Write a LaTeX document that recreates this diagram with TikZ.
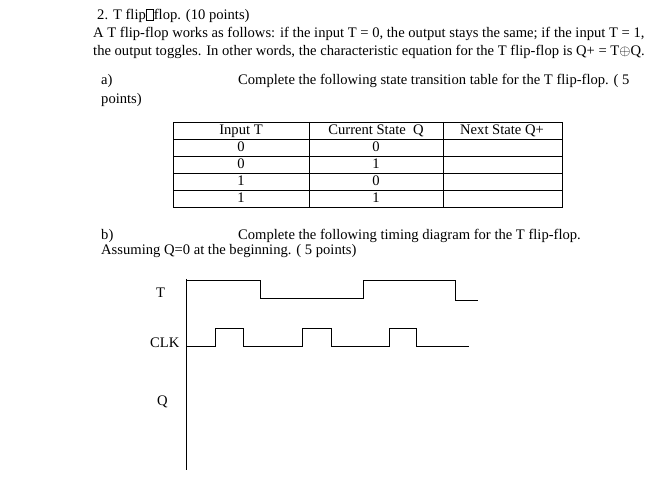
\documentclass[tikz,border=0pt]{standalone}
\usepackage{fontspec}
\setmainfont{Liberation Serif}
\begin{document}
\begin{tikzpicture}[x=1pt,y=-1pt,txt/.style={anchor=base west,inner sep=0pt,font=\fontsize{14.6}{16}\selectfont},
 wave/.style={line width=0.7pt}]
\useasboundingbox (0,0) rectangle (669,478);
\node[txt] (l1) at (97,20) {2. T flip\fboxsep=0pt\fboxrule=0.5pt\fbox{\rule{0pt}{10pt}\hspace{7pt}}flop. (10 points)};
\node[txt] (l2) at (93,38) {A T flip-flop works as follows: if the input T = 0, the output stays the same; if the input T = 1,};
\node[txt] (l3) at (93,56) {the output toggles. In other words, the characteristic equation for the T flip-flop is Q+ = T$\oplus$Q.};
\node[txt] (a) at (101,85) {a)};
\node[txt] (a2) at (238,85) {Complete the following state transition table for the T flip-flop. ( 5};
\node[txt] (a3) at (101,104) {points)};
% table
\draw (173,122) rectangle (562,207);
\foreach \y in {139,156,173,190} \draw (173,\y) -- (562,\y);
\foreach \x in {309,443} \draw (\x,122) -- (\x,207);
\foreach \t/\y in {Input T/135,0/152,0/169,1/186,1/203} \node[txt,anchor=base] at (241,\y) {\t};
\foreach \t/\y in {Current State\ \ Q/135,0/152,1/169,0/186,1/203} \node[txt,anchor=base] at (376,\y) {\t};
\node[txt,anchor=base] (h3) at (502,135) {Next State Q+};
\node[txt] (b) at (101,240) {b)};
\node[txt] (b2) at (238,240) {Complete the following timing diagram for the T flip-flop.};
\node[txt] (b3) at (101,255) {Assuming Q=0 at the beginning. ( 5 points)};
\node[txt] (T) at (156,298) {T};
\node[txt] (C) at (150,347) {CLK};
\node[txt] (Q) at (157,405) {Q};
\draw (186,279) -- (186,470);
\draw[wave] (186,280) -- (260,280) -- (260,298) -- (363,298) -- (363,280) -- (455,280) -- (455,300) -- (478,300);
\draw[wave] (186,346) -- (215,346) -- (215,328) -- (243,328) -- (243,346) -- (302,346) -- (302,328) -- (331,328) -- (331,346) -- (389,346) -- (389,328) -- (416,328) -- (416,346) -- (469,346);
\end{tikzpicture}
\end{document}
